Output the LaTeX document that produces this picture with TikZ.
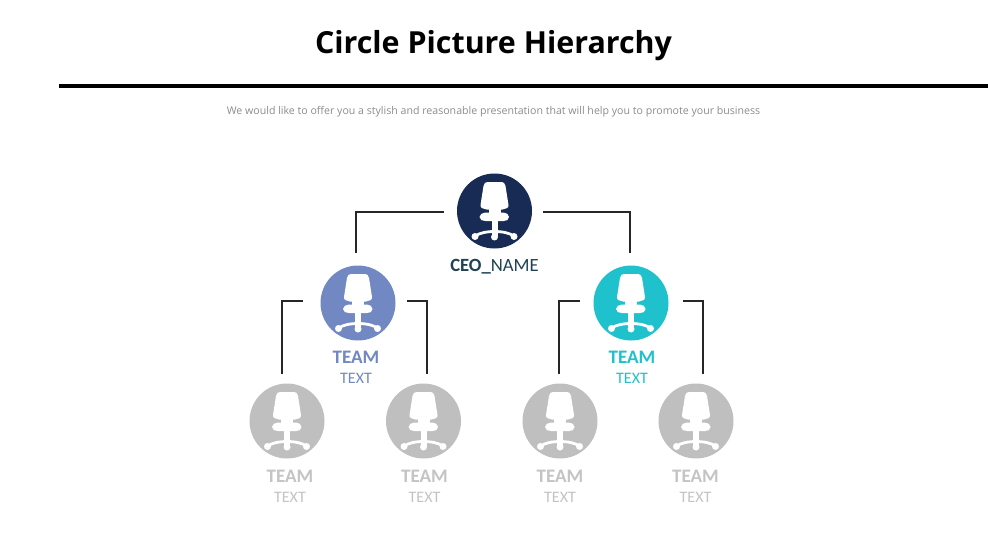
\documentclass[tikz,border=0pt]{standalone}
\usepackage{fontspec}
\setmainfont{Carlito}
\newfontfamily\titlefont{Open Sans}
\definecolor{navy}{HTML}{172B54}
\definecolor{bluey}{HTML}{7288C2}
\definecolor{tealy}{HTML}{1FC1CC}
\definecolor{greyc}{HTML}{BFBFBF}
\definecolor{greyt}{HTML}{C4C4C4}
\definecolor{ceotext}{HTML}{1F4254}
\definecolor{linec}{HTML}{262626}
\tikzset{
  x=0.75pt,y=-0.75pt,
  disc/.style={circle,minimum size=56.25pt,inner sep=0pt,fill=#1},
  conn/.style={draw=linec,line width=2.2pt,line join=miter,line cap=butt},
  headlabel/.style={font=\fontsize{14.3pt}{16pt}\selectfont\bfseries,inner sep=0pt,anchor=center},
  sublabel/.style={font=\fontsize{12pt}{14pt}\selectfont,inner sep=0pt,anchor=center},
  chairicon/.pic={
    \fill[white] (-11,-25) .. controls (-11,-28) and (-9,-29) .. (-5,-29) -- (5,-29)
      .. controls (9,-29) and (11,-28) .. (11,-25)
      -- (14,-6) .. controls (14.5,-3) and (11,-2) .. (8,-1.5) -- (-8,-1.5)
      .. controls (-11,-2) and (-14.5,-3) .. (-14,-6) -- cycle;
    \fill[white] (-6,-3) rectangle (6,3);
    \fill[white] (-9,1.5) -- (9,1.5) .. controls (12,1.5) and (14.5,3.5) .. (14.5,6)
      .. controls (14.5,9) and (12,10) .. (9,10) -- (-9,10)
      .. controls (-12,10) and (-15,9) .. (-15,6) .. controls (-15,3.5) and (-12,1.5) .. (-9,1.5) -- cycle;
    \fill[white] (-3,9) rectangle (3,25);
    \draw[white,line width=2.1pt] (-19,25) .. controls (-12,19) and (12,19) .. (19,25);
    \fill[white] (-19.5,25.5) circle (3.5) (19.5,25.5) circle (3.5) (0,26) circle (3.5);
  }
}
\begin{document}
\begin{tikzpicture}
\useasboundingbox[fill=white] (0,0) rectangle (988,556);
\node[inner sep=0pt,font=\titlefont\fontsize{22.8pt}{26pt}\selectfont\bfseries] (title) at (493.5,46) {Circle Picture Hierarchy};
\coordinate (ruleL) at (59,86);
\coordinate (ruleR) at (988,86);
\draw[black,line width=2.3pt] (ruleL) -- (ruleR);
\node[inner sep=0pt,text=gray!90,font=\titlefont\fontsize{7.95pt}{10pt}\selectfont] (sub) at (493.5,112) {We would like to offer you a stylish and reasonable presentation that will help you to promote your business};

\node[disc=navy] (ceo) at (494.5,211) {};
\node[disc=bluey] (a) at (358,303) {};
\node[disc=tealy] (b) at (631,303) {};
\node[disc=greyc] (c) at (287,421) {};
\node[disc=greyc] (d) at (423.5,421) {};
\node[disc=greyc] (e) at (560,421) {};
\node[disc=greyc] (f) at (696,421) {};
\foreach \n in {ceo,a,b,c,d,e,f} { \pic at (\n.center) {chairicon}; }

\coordinate (ceoL) at (444,212);
\coordinate (ceoR) at (543,212);
\coordinate (aL) at (303,301);
\coordinate (aR) at (407,301);
\coordinate (bL) at (580,301);
\coordinate (bR) at (683,301);
\coordinate (dropA) at (356,253);
\coordinate (dropB) at (630,253);
\coordinate (dropC) at (282,374);
\coordinate (dropD) at (427,374);
\coordinate (dropE) at (559,374);
\coordinate (dropF) at (703,374);
\draw[conn] (ceoL) -| (dropA);
\draw[conn] (ceoR) -| (dropB);
\draw[conn] (aL) -| (dropC);
\draw[conn] (aR) -| (dropD);
\draw[conn] (bL) -| (dropE);
\draw[conn] (bR) -| (dropF);

\node[inner sep=0pt,text=ceotext,font=\fontsize{14pt}{16pt}\selectfont] (ceolabel) at (494.5,267) {\textbf{CEO\_}NAME};
\node[headlabel,text=bluey] (at1) at (356,357) {TEAM};
\node[sublabel,text=bluey] (at2) at (356,378) {TEXT};
\node[headlabel,text=tealy] (bt1) at (632,357) {TEAM};
\node[sublabel,text=tealy] (bt2) at (632,378) {TEXT};
\node[headlabel,text=greyt] (ct1) at (290,476) {TEAM};
\node[sublabel,text=greyt] (ct2) at (290,497) {TEXT};
\node[headlabel,text=greyt] (dt1) at (424.5,476) {TEAM};
\node[sublabel,text=greyt] (dt2) at (424.5,497) {TEXT};
\node[headlabel,text=greyt] (et1) at (560,476) {TEAM};
\node[sublabel,text=greyt] (et2) at (560,497) {TEXT};
\node[headlabel,text=greyt] (ft1) at (695.5,476) {TEAM};
\node[sublabel,text=greyt] (ft2) at (695.5,497) {TEXT};
\end{tikzpicture}
\end{document}
